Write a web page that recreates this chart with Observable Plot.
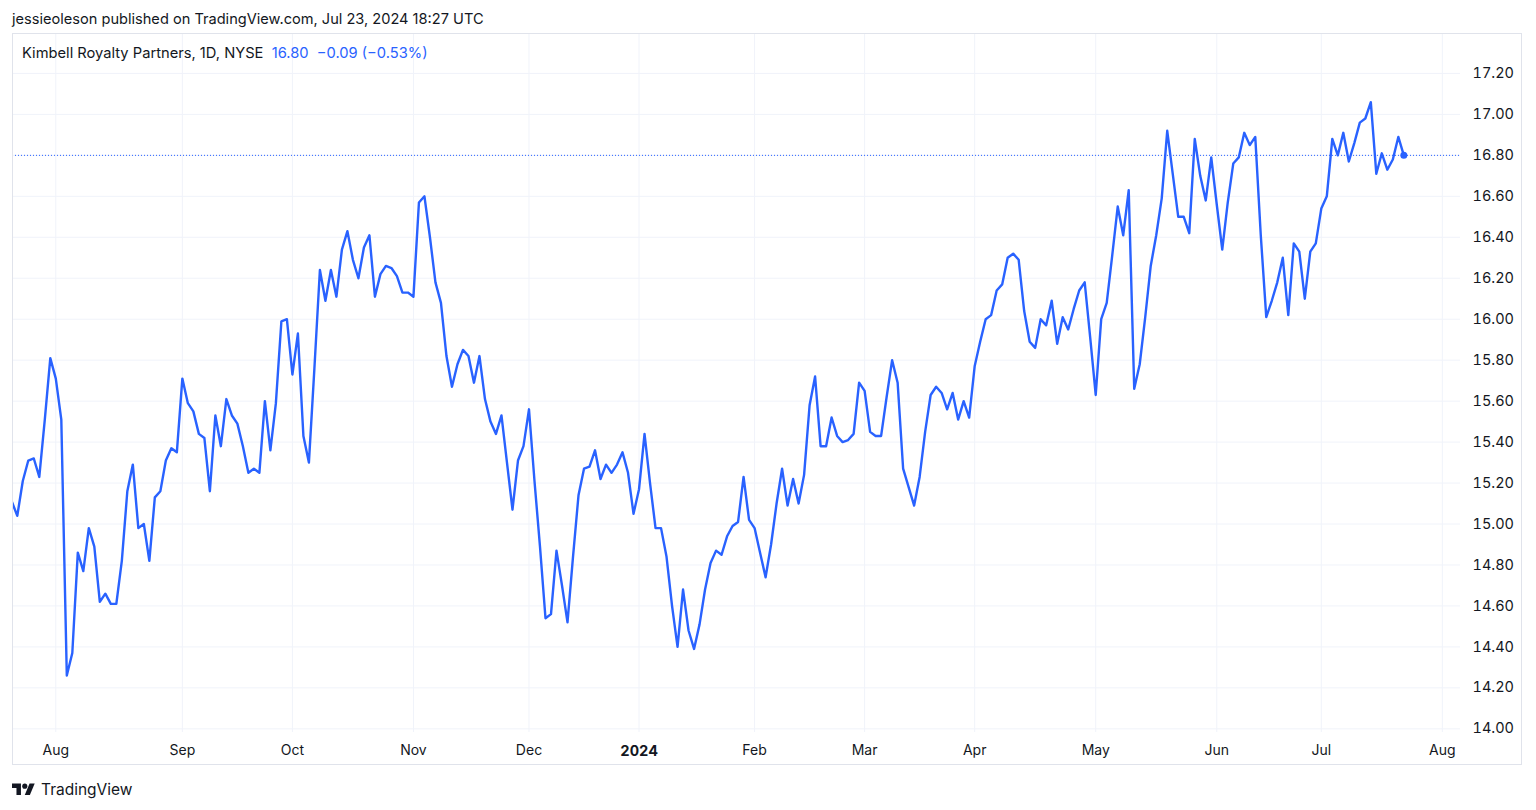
<!DOCTYPE html>
<html>
<head>
<meta charset="utf-8">
<script src="https://cdn.jsdelivr.net/npm/d3@7"></script>
<script src="https://cdn.jsdelivr.net/npm/@observablehq/plot@0.6"></script>
<style>
  html, body { margin: 0; padding: 0; background: #ffffff; }
  body { width: 1536px; height: 810px; position: relative; overflow: hidden;
         font-family: Inter, Roboto, "Noto Sans", sans-serif; color: #131722; }
  #publish { position: absolute; left: 12px; top: 9px; font-size: 14.6px; line-height: 20px; white-space: nowrap; }
  #frame { position: absolute; left: 12px; top: 33px; width: 1510px; height: 732px;
           border: 1px solid #e0e3eb; box-sizing: border-box; pointer-events: none; }
  #chart { position: absolute; left: 0; top: 0; }
  #legend { position: absolute; left: 22px; top: 43px; font-size: 14.7px; line-height: 20px; white-space: nowrap; }
  #legend .v { color: #2962ff; }
  #logo { position: absolute; left: 12px; top: 780px; display: flex; align-items: center; gap: 6px;
          font-size: 15.5px; line-height: 20px; color: #131722; }
</style>
</head>
<body>
<div id="chart"></div>
<div id="frame"></div>
<div id="publish">jessieoleson published on TradingView.com, Jul 23, 2024 18:27 UTC</div>
<div id="legend">Kimbell Royalty Partners, 1D, NYSE&nbsp;&nbsp;<span class="v">16.80&nbsp;&nbsp;−0.09 (−0.53%)</span></div>
<div id="logo"><svg width="23" height="18" viewBox="0 0 36 28"><path d="M14 22H7V11H0V4h14v18z" fill="#131722"/><circle cx="20" cy="8" r="4" fill="#131722"/><path d="M28 22h-8l7.5-18h8L28 22z" fill="#131722"/></svg><span>TradingView</span></div>
<script>
// Daily closes, one per trading day, starting 8 trading days before Aug 1 2023
const firstBar = -8;
const closes = [
  15.11, 15.04, 15.21, 15.31, 15.32, 15.23, 15.51, 15.81,
  15.71, 15.51, 14.26, 14.37, 14.86, 14.77, 14.98, 14.89, 14.62, 14.66,
  14.61, 14.61, 14.82, 15.16, 15.29, 14.98, 15.00, 14.82, 15.13, 15.16,
  15.31, 15.37, 15.35,
  15.71, 15.59, 15.55, 15.44, 15.42, 15.16, 15.53, 15.38, 15.61, 15.53,
  15.49, 15.38, 15.25, 15.27, 15.25, 15.60, 15.36, 15.59, 15.99, 16.00,
  15.73, 15.93, 15.43, 15.30, 15.76, 16.24, 16.09, 16.24, 16.11, 16.34,
  16.43, 16.29, 16.20, 16.35, 16.41, 16.11, 16.22, 16.26, 16.25, 16.21,
  16.13, 16.13,
  16.11, 16.57, 16.60, 16.40, 16.18, 16.08, 15.82, 15.67, 15.78, 15.85,
  15.82, 15.69, 15.82, 15.61, 15.50, 15.44, 15.53, 15.30, 15.07, 15.31,
  15.38,
  15.56, 15.21, 14.89, 14.54, 14.56, 14.87, 14.70, 14.52, 14.84, 15.14,
  15.27, 15.28, 15.36, 15.22, 15.29, 15.25, 15.29, 15.35, 15.25, 15.05,
  15.17, 15.44, 15.20, 14.98, 14.98, 14.84, 14.60, 14.40, 14.68, 14.48,
  14.39, 14.51, 14.68, 14.81, 14.87, 14.85, 14.94, 14.99, 15.01, 15.23,
  15.02,
  14.98, 14.86, 14.74, 14.90, 15.10, 15.27, 15.09, 15.22, 15.10, 15.24,
  15.58, 15.72, 15.38, 15.38, 15.52, 15.43, 15.40, 15.41, 15.44, 15.69,
  15.65, 15.45, 15.43, 15.43, 15.62, 15.80, 15.69, 15.27, 15.18, 15.09,
  15.23, 15.45, 15.63, 15.67, 15.64, 15.56, 15.64, 15.51, 15.60, 15.52,
  15.77, 15.89, 16.00, 16.02, 16.14, 16.17, 16.30, 16.32, 16.29, 16.04,
  15.89, 15.86, 16.00, 15.97, 16.09, 15.88, 16.01, 15.95, 16.05, 16.14,
  16.18, 15.91,
  15.63, 16.00, 16.08, 16.31, 16.55, 16.41, 16.63, 15.66, 15.78, 16.01,
  16.26, 16.41, 16.59, 16.92, 16.71, 16.50, 16.50, 16.42, 16.88, 16.70,
  16.58, 16.79,
  16.56, 16.34, 16.57, 16.76, 16.79, 16.91, 16.85, 16.89, 16.41, 16.01,
  16.09, 16.18, 16.30, 16.02, 16.37, 16.33, 16.10, 16.33, 16.37,
  16.54, 16.60, 16.88, 16.80, 16.91, 16.77, 16.86, 16.96, 16.98, 17.06,
  16.71, 16.81, 16.73, 16.78, 16.89, 16.80
];
const lastClose = 16.80;

// Month boundaries (first trading day of each month, bar index from Aug 1 2023)
const monthBars   = [0, 23, 43, 65, 86, 106, 127, 147, 167, 189, 211, 230, 252];
const monthLabels = ["Aug", "Sep", "Oct", "Nov", "Dec", "2024", "Feb", "Mar", "Apr", "May", "Jun", "Jul", "Aug"];
const yearBars = [106];

const priceTicks = d3.range(14.0, 17.21, 0.2).map(v => +v.toFixed(2));

const data = closes.map((c, i) => ({bar: i + firstBar, close: c}));
const last = data[data.length - 1];

const monthLabelOf = new Map(monthBars.map((b, i) => [b, monthLabels[i]]));

const blue = "#2962ff";
const grid = "#f0f3fa";

const chart = Plot.plot({
  width: 1536,
  height: 810,
  marginLeft: 12,
  marginRight: 76,
  marginTop: 33,
  marginBottom: 78,
  style: {fontFamily: "Inter, Roboto, sans-serif", color: "#131722", background: "transparent"},
  x: {type: "linear", domain: [-7.87, 255.3]},
  y: {domain: [13.982, 17.395]},
  marks: [
    Plot.gridY(priceTicks, {stroke: grid, strokeOpacity: 1}),
    Plot.gridX(monthBars, {stroke: grid, strokeOpacity: 1}),
    Plot.ruleY([lastClose], {stroke: blue, strokeWidth: 1, strokeDasharray: "1,2", strokeOpacity: 1}),
    Plot.line(data, {x: "bar", y: "close", stroke: blue, strokeWidth: 2.4, clip: true, curve: "linear", strokeLinejoin: "round"}),
    Plot.dot([last], {x: "bar", y: "close", r: 3.5, fill: blue, stroke: null}),
    Plot.axisY(priceTicks, {anchor: "right", tickSize: 0, tickPadding: 12, fontSize: 14.5,
      tickFormat: d => d.toFixed(2), textAnchor: "start", label: null, fill: "#131722"}),
    Plot.axisX(monthBars.filter(b => !yearBars.includes(b)), {anchor: "bottom", tickSize: 0, tickPadding: 13,
      fontSize: 14, tickFormat: d => monthLabelOf.get(d), label: null, fill: "#131722"}),
    Plot.axisX(yearBars, {anchor: "bottom", tickSize: 0, tickPadding: 13, fontSize: 14.5, fontWeight: "bold",
      tickFormat: d => monthLabelOf.get(d), label: null, fill: "#131722"})
  ]
});
document.getElementById("chart").appendChild(chart);
</script>
</body>
</html>
